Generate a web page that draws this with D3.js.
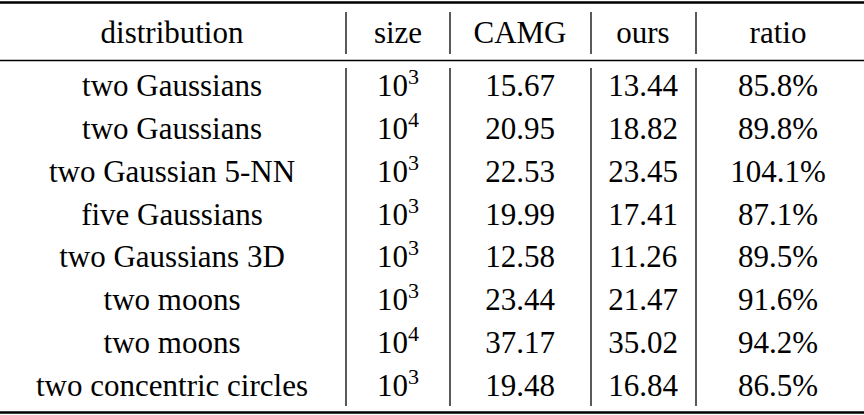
<!DOCTYPE html><html><head><meta charset="utf-8"><script src="https://cdn.jsdelivr.net/npm/d3@7"></script>
<style>body{margin:0;background:#fff}</style></head><body><svg id="c" width="864" height="415"></svg>
<script>
const headers=["distribution","size","CAMG","ours","ratio"];
const distributions=["two Gaussians","two Gaussians","two Gaussian 5-NN","five Gaussians","two Gaussians 3D","two moons","two moons","two concentric circles"];
const sizeExp=["3","4","3","3","3","3","4","3"];
const camg=["15.67","20.95","22.53","19.99","12.58","23.44","37.17","19.48"];
const ours=["13.44","18.82","23.45","17.41","11.26","21.47","35.02","16.84"];
const ratio=["85.8%","89.8%","104.1%","87.1%","89.5%","91.6%","94.2%","86.5%"];
const svg=d3.select("#c");
const colCenters=[172,398,520,643,778];
const seps=[346,450,591,696];
const y=d3.scaleBand().domain(d3.range(8)).range([64,406]);
const F="'Liberation Serif','DejaVu Serif',serif",fs=31;
svg.append("line").attr("x1",0).attr("x2",864).attr("y1",2.5).attr("y2",2.5).attr("stroke","#000").attr("stroke-width",2.5);
svg.append("line").attr("x1",0).attr("x2",864).attr("y1",60.5).attr("y2",60.5).attr("stroke","#000").attr("stroke-width",1.5);
svg.append("line").attr("x1",0).attr("x2",864).attr("y1",412.5).attr("y2",412.5).attr("stroke","#000").attr("stroke-width",2.5);
seps.forEach(x=>{
 svg.append("line").attr("x1",x).attr("x2",x).attr("y1",12).attr("y2",54).attr("stroke","#000").attr("stroke-width",1.3);
 svg.append("line").attr("x1",x).attr("x2",x).attr("y1",68).attr("y2",406).attr("stroke","#000").attr("stroke-width",1.3);
});
headers.forEach((h,i)=>svg.append("text").attr("x",colCenters[i]).attr("y",43).attr("text-anchor","middle").attr("font-family",F).attr("font-size",fs).text(h));
const cols=[distributions,null,camg,ours,ratio];
d3.range(8).forEach(r=>{
 const yy=y(r)+y.bandwidth()/2+11;
 cols.forEach((c,i)=>{
  const t=svg.append("text").attr("x",colCenters[i]).attr("y",yy).attr("text-anchor","middle").attr("font-family",F).attr("font-size",fs);
  if(c) t.text(c[r]); else {t.append("tspan").text("10");t.append("tspan").attr("dy",-12).attr("font-size",22).text(sizeExp[r]);}
 });
});
</script></body></html>
